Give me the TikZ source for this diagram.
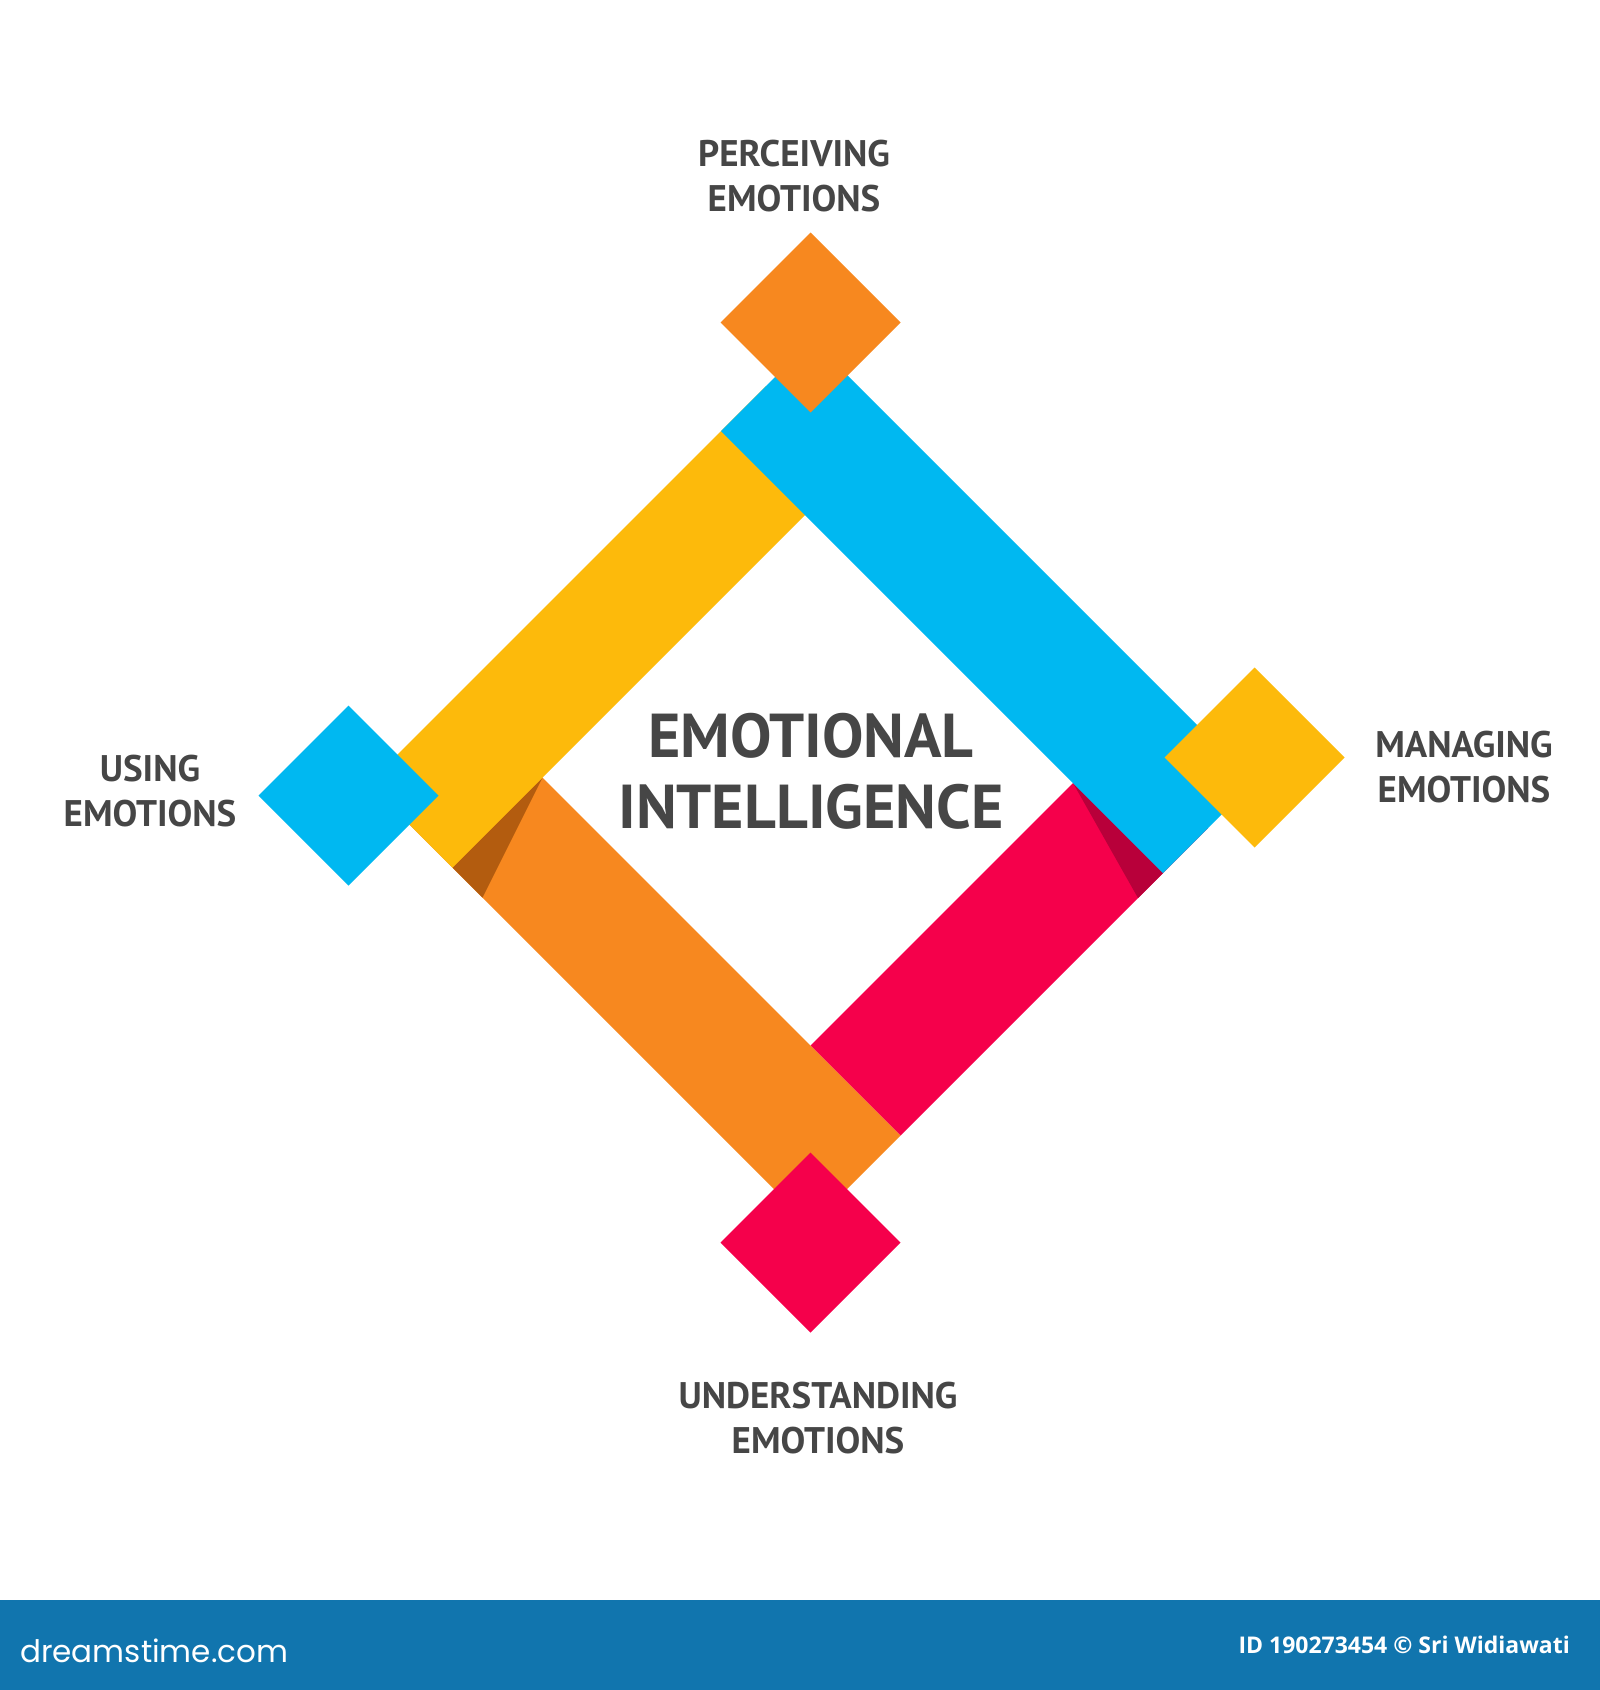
\documentclass[tikz,border=0pt]{standalone}
\usepackage{fontspec}
\setmainfont{PT Sans}
\newfontfamily\idfont{Open Sans}
\newfontfamily\logofont{Poppins}
\usepackage{xcolor}
\usetikzlibrary{positioning}

\definecolor{eiorange}{HTML}{F7881F}
\definecolor{eiblue}{HTML}{00B8F1}
\definecolor{eiyellow}{HTML}{FDBA0B}
\definecolor{eired}{HTML}{F5004B}
\definecolor{eibrown}{HTML}{B35C0F}
\definecolor{eicrimson}{HTML}{B8003A}
\definecolor{eigray}{HTML}{464646}
\definecolor{eibar}{HTML}{1175AE}

\tikzset{
lbl/.style={align=center, text=eigray, inner sep=0pt, font=\fontsize{37}{45}\selectfont\bfseries},
title/.style={align=center, text=eigray, inner sep=0pt, font=\fontsize{62}{71}\selectfont\bfseries},
% frame in diagonal coordinates (x+y, y-x)
diag/.style={x={(0.5pt,-0.5pt)}, y={(-0.5pt,-0.5pt)}}
}

\begin{document}
\begin{tikzpicture}[x=1pt, y=-1pt]
\useasboundingbox (0,0) rectangle (1600,1690);
\fill[white] (0,0) rectangle (1600,1690);

\begin{scope}[diag]{
%bars
\fill[eired] (1856,-380)--(2036,-380)--(2036,235)--(1856,235)--cycle;
\fill[eicrimson] (1856,-290)--(2036,-290)--(2036,-240)--cycle;

\fill[eiorange] (1200,235)--(2036,235)--(2036,415)--(1200,415)--cycle;
\fill[eibrown] (1320,235)--(1320,415)--(1380,415)--cycle;

\fill[eiyellow] (1152,-380)--(1320,-380)--(1320,415)--(1152,415)--cycle;

\fill[eiblue] (1152,-472)--(2036,-472)--(2036,-290)--(1152,-290)--cycle;

%corner squares
\fill[eiorange] (1043,-578)--++(180,0)--++(0,180)--++(-180,0)--cycle;
\fill[eiblue] (1054,357)--++(180,0)--++(0,180)--++(-180,0)--cycle;
\fill[eiyellow] (1922,-587)--++(180,0)--++(0,180)--++(-180,0)--cycle;
\fill[eired] (1963,342)--++(180,0)--++(0,180)--++(-180,0)--cycle;
} \end{scope}

\node[title] (ei) at (811,771) {EMOTIONAL\\INTELLIGENCE};

\node[lbl] (perceiving) at (794,176) {PERCEIVING\\EMOTIONS};
\node[lbl] (using) at (150,791) {USING\\EMOTIONS};
\node[lbl] (managing) at (1464,767) {MANAGING\\EMOTIONS};
\node[lbl] (understanding) at (818,1418) {UNDERSTANDING\\EMOTIONS};

%bottom bar
\fill[eibar] (0,1600) rectangle (1600,1690);
\node[anchor=base west, inner sep=0pt, text=white, font=\logofont\fontsize{31}{36}\selectfont] (logo) at (20,1662) {dreamstime.com};
\node[anchor=base east, inner sep=0pt, text=white, font=\idfont\fontsize{23}{28}\selectfont\bfseries] (credit) at (1570,1653) {ID 190273454 © Sri Widiawati};

\end{tikzpicture}
\end{document}
